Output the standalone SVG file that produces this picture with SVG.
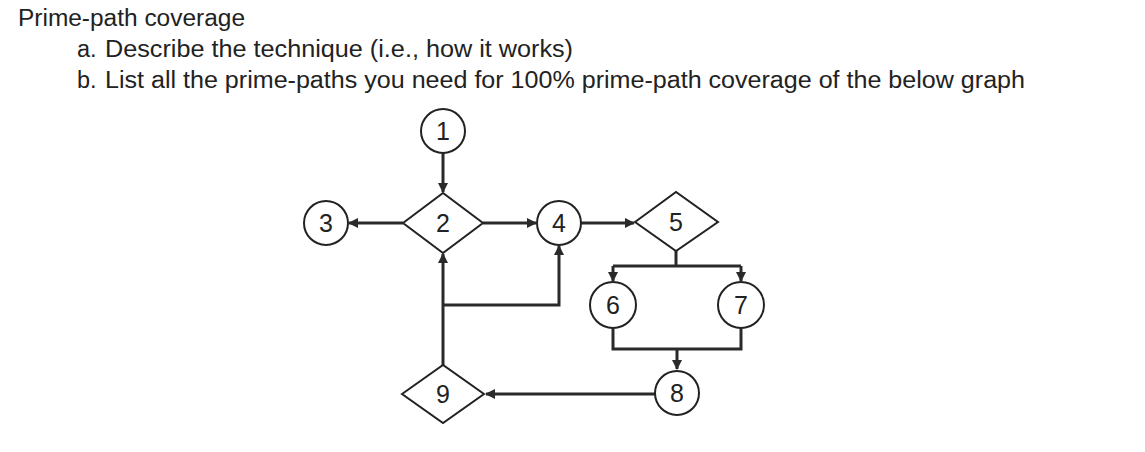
<svg xmlns="http://www.w3.org/2000/svg" width="1145" height="452" viewBox="0 0 1145 452">
<style>
.t{font-family:"Liberation Sans",Arial,sans-serif;font-size:23.5px;fill:#222}
.n{fill:#fff;stroke:#222;stroke-width:2}
.l{font-family:"Liberation Sans",Arial,sans-serif;font-size:25px;fill:#222;text-anchor:middle}
.c{fill:none;stroke:#2a2a2a;stroke-width:3}
</style>
<defs><marker id="a" markerWidth="10" markerHeight="10" refX="9" refY="5" orient="auto" markerUnits="userSpaceOnUse"><path d="M0,0 L10,5 L0,10 Z" fill="#2a2a2a"/></marker></defs>
<rect width="1145" height="452" fill="#fff"/>
<text class="t" x="18" y="26" textLength="227" lengthAdjust="spacingAndGlyphs">Prime-path coverage</text>
<text class="t" x="77" y="57">a.</text>
<text class="t" x="105" y="57" textLength="468" lengthAdjust="spacingAndGlyphs">Describe the technique (i.e., how it works)</text>
<text class="t" x="77" y="88">b.</text>
<text class="t" x="105" y="88" textLength="920" lengthAdjust="spacingAndGlyphs">List all the prime-paths you need for 100% prime-path coverage of the below graph</text>
<g id="connectors">
<path class="c" d="M443,153 V192" marker-end="url(#a)"/>
<path class="c" d="M403,223 H349" marker-end="url(#a)"/>
<path class="c" d="M483,223 H536" marker-end="url(#a)"/>
<path class="c" d="M581,223 H634" marker-end="url(#a)"/>
<path class="c" d="M676,251 V266"/>
<path class="c" d="M613,266 H741"/>
<path class="c" d="M613,266 V281" marker-end="url(#a)"/>
<path class="c" d="M741,266 V281" marker-end="url(#a)"/>
<path class="c" d="M613,328 V349 H741 V328"/>
<path class="c" d="M677,349 V369" marker-end="url(#a)"/>
<path class="c" d="M655,394 H486" marker-end="url(#a)"/>
<path class="c" d="M443,365 V254" marker-end="url(#a)"/>
<path class="c" d="M443,305 H559 V246" marker-end="url(#a)"/>
</g>
<g id="n1"><circle class="n" cx="443" cy="131" r="22"/><text class="l" x="443" y="140">1</text></g>
<g id="n2"><path class="n" d="M403,223 L443,193 L483,223 L443,253 Z"/><text class="l" x="443" y="232">2</text></g>
<g id="n3"><circle class="n" cx="326" cy="223" r="22"/><text class="l" x="326" y="232">3</text></g>
<g id="n4"><circle class="n" cx="559" cy="223" r="22"/><text class="l" x="559" y="232">4</text></g>
<g id="n5"><path class="n" d="M635,222 L676,192 L718,222 L676,251 Z"/><text class="l" x="676" y="231">5</text></g>
<g id="n6"><circle class="n" cx="613" cy="305" r="23"/><text class="l" x="613" y="314">6</text></g>
<g id="n7"><circle class="n" cx="741" cy="305" r="23"/><text class="l" x="741" y="314">7</text></g>
<g id="n8"><circle class="n" cx="677" cy="393" r="22"/><text class="l" x="677" y="402">8</text></g>
<g id="n9"><path class="n" d="M402,394 L443,365 L484,394 L443,423 Z"/><text class="l" x="443" y="403">9</text></g>
</svg>
